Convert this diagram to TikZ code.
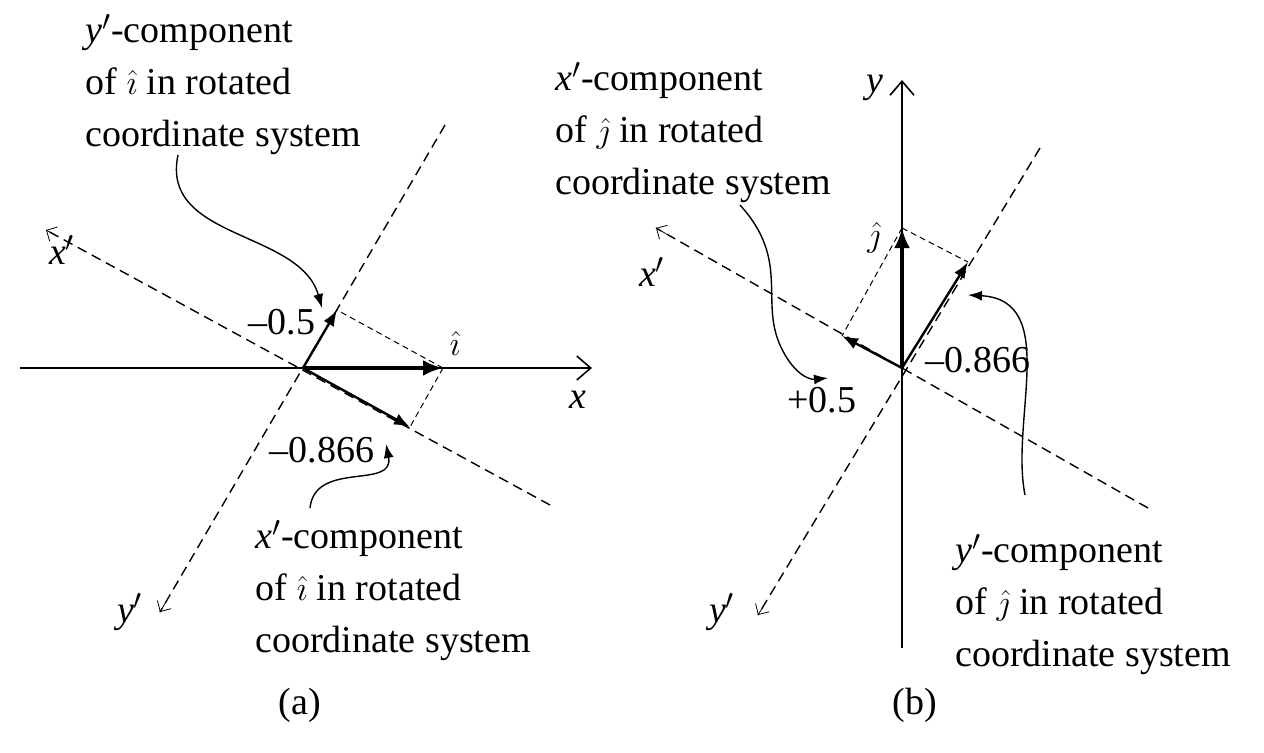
\documentclass[tikz,border=0pt]{standalone}
\usepackage{fontspec}
\setmainfont{Liberation Serif}
\usetikzlibrary{arrows.meta,calc}
\newcommand{\vi}[1]{\textit{#1}}
\begin{document}
\begin{tikzpicture}[x=0.5pt,y=-0.5pt,font=\fontsize{19}{26}\selectfont,
  axis/.style={line width=0.8pt,-{Straight Barb[length=7pt,width=12pt]}},
  dax/.style={dashed,line width=0.7pt,dash pattern=on 5pt off 3pt},
  dtip/.style={-{Straight Barb[length=4pt,width=8pt]}},
  vec/.style={line width=1.2pt,-{Latex[length=8pt,width=6pt]}},
  uvec/.style={line width=2.2pt,-{Latex[length=10pt,width=8pt]}},
  proj/.style={dashed,line width=0.5pt,dash pattern=on 3pt off 2pt},
  call/.style={line width=0.7pt,-{Latex[length=7pt,width=5pt]}},
  txt/.style={anchor=north west,align=left,inner sep=0pt}]
\useasboundingbox (0,0) rectangle (1264,752);
% ---------- (a)
\coordinate (Oa) at (303,368);
\coordinate (xa0) at (20,368); \coordinate (xa1) at (592,368);
\draw[axis] (xa0) -- (xa1);
\coordinate (xpa) at (46,230); \coordinate (xpae) at (550,505);
\draw[dax] (xpae) -- (xpa); \draw[dtip] ($(xpa)!0.02!(xpae)$) -- (xpa);
\coordinate (ypa) at (160,612); \coordinate (ypae) at (445,125);
\draw[dax] (ypae) -- (ypa); \draw[dtip] ($(ypa)!0.02!(ypae)$) -- (ypa);
\coordinate (ia) at (443,368);
\coordinate (pxa) at (410,427); \coordinate (pya) at (337,310);
\draw[proj] (ia) -- (pxa); \draw[proj] (ia) -- (pya);
\draw[vec] (Oa) -- (pxa); \draw[vec] (Oa) -- (pya);
\draw[uvec] (Oa) -- (ia);
\node (la1) at (282,322) {--0.5};
\node (la2) at (455,343) {$\hat{\imath}$};
\node (la3) at (578,400) {\vi{x}};
\node (la4) at (62,250) {\vi{x}$'$};
\node (la5) at (130,612) {\vi{y}$'$};
\node (la6) at (322,450) {--0.866};
\node[txt] (ta1) at (85,14) {\vi{y}$'$-component\\of $\hat{\imath}$ in rotated\\coordinate system};
\node[txt] (ta2) at (255,520) {\vi{x}$'$-component\\of $\hat{\imath}$ in rotated\\coordinate system};
\coordinate (ca1) at (178,155); \coordinate (ca1e) at (322,308);
\draw[call] (ca1) .. controls (160,240) and (300,230) .. (ca1e);
\coordinate (ca2) at (310,508); \coordinate (ca2e) at (386,444);
\draw[call] (ca2) .. controls (315,460) and (395,490) .. (ca2e);
\node (cap1) at (300,705) {(a)};
% ---------- (b)
\coordinate (Ob) at (902,368);
\coordinate (yb0) at (902,648); \coordinate (yb1) at (902,80);
\draw[axis] (yb0) -- (yb1);
\coordinate (xpb) at (656,228); \coordinate (xpbe) at (1148,508);
\draw[dax] (xpbe) -- (xpb); \draw[dtip] ($(xpb)!0.02!(xpbe)$) -- (xpb);
\coordinate (ypb) at (758,615); \coordinate (ypbe) at (1040,148);
\draw[dax] (ypbe) -- (ypb); \draw[dtip] ($(ypb)!0.02!(ypbe)$) -- (ypb);
\coordinate (jb) at (902,228);
\coordinate (pxb) at (842,336); \coordinate (pyb) at (968,262);
\draw[proj] (jb) -- (pxb); \draw[proj] (jb) -- (pyb);
\draw[vec] (Ob) -- (pxb); \draw[vec] (Ob) -- (pyb);
\draw[uvec] (Ob) -- (jb);
\node (lb1) at (875,88) {\vi{y}};
\node (lb2) at (874,238) {$\hat{\jmath}$};
\node (lb3) at (652,272) {\vi{x}$'$};
\node (lb4) at (722,612) {\vi{y}$'$};
\node (lb5) at (822,400) {+0.5};
\node (lb6) at (978,360) {--0.866};
\node[txt] (tb1) at (555,62) {\vi{x}$'$-component\\of $\hat{\jmath}$ in rotated\\coordinate system};
\node[txt] (tb2) at (955,534) {\vi{y}$'$-component\\of $\hat{\jmath}$ in rotated\\coordinate system};
\coordinate (cb1) at (740,205); \coordinate (cb1e) at (828,378);
\draw[call] (cb1) .. controls (790,260) and (760,300) .. (780,345) .. controls (792,372) and (808,380) .. (cb1e);
\coordinate (cb2) at (1025,495); \coordinate (cb2e) at (968,295);
\draw[call] (cb2) .. controls (1010,420) and (1060,300) .. (cb2e);
\node (cap2) at (915,705) {(b)};
\end{tikzpicture}
\end{document}
